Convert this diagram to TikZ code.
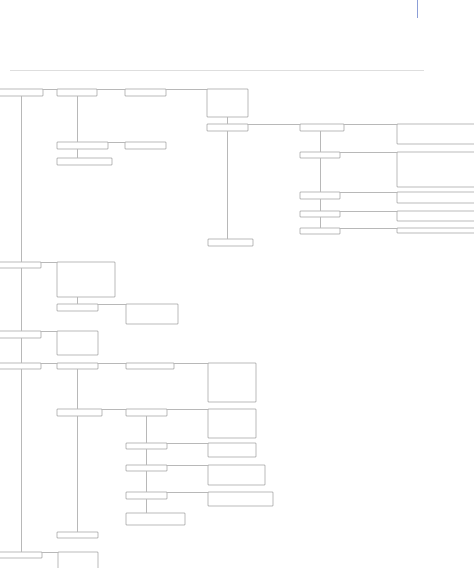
\documentclass[tikz,border=0pt]{standalone}
\definecolor{markblue}{RGB}{140,158,215}
\begin{document}
\begin{tikzpicture}[x=1pt,y=-1pt,
  box/.style={draw=black!38,line width=0.55pt,rounded corners=0.6pt,inner sep=0pt,outer sep=0pt,anchor=north west},
  conn/.style={draw=black!28,line width=0.5pt},
  rule/.style={draw=black!13,line width=0.9pt},
  bluemark/.style={draw=markblue,line width=1pt}]
\useasboundingbox (0,0) rectangle (474,568);
\newcommand{\bx}[5]{\node[box,minimum width={(#4-#2)*1pt},minimum height={(#5-#3)*1pt}] (#1) at (#2,#3) {};}
% header
\coordinate (rl) at (10,70); \coordinate (rr) at (424,70);
\draw[rule] (rl) -- (rr);
\coordinate (bt) at (417,0); \coordinate (bb) at (417,18);
\draw[bluemark] (bt) -- (bb);
% row 1
\bx{A1}{-1}{89}{43}{96}
\bx{A2}{57}{89}{97}{96}
\bx{A3}{125}{89}{166}{96}
\bx{B}{207}{89}{248}{117}
\bx{B2}{207}{124}{248}{131}
\bx{C}{208}{239}{253}{246}
\bx{D1}{300}{124}{344}{131}
\bx{D2}{300}{152}{340}{158}
\bx{D3}{300}{192}{340}{199}
\bx{D4}{300}{211}{340}{217}
\bx{D5}{300}{228}{340}{234}
\bx{E1}{397}{124}{480}{144}
\bx{E2}{397}{152}{480}{187}
\bx{E3}{397}{192}{480}{203}
\bx{E4}{397}{211}{480}{221}
\bx{E5}{397}{228}{480}{233}
\bx{F1}{57}{142}{108}{149}
\bx{F2}{125}{142}{166}{149}
\bx{F3}{57}{158}{112}{165}
% section 2
\bx{G1}{-1}{262}{41}{268}
\bx{G2}{57}{262}{115}{297}
\bx{G3}{57}{304}{98}{311}
\bx{G4}{126}{304}{178}{324}
\bx{H1}{-1}{331}{41}{338}
\bx{H2}{57}{331}{98}{355}
% section 3
\bx{I1}{-1}{363}{41}{369}
\bx{I2}{57}{363}{98}{369}
\bx{I3}{126}{363}{174}{369}
\bx{I4}{208}{363}{256}{402}
\bx{J1}{57}{409}{102}{416}
\bx{J2}{126}{409}{167}{416}
\bx{J3}{208}{409}{256}{438}
\bx{K1}{126}{443}{167}{449}
\bx{K2}{126}{465}{167}{471}
\bx{K3}{126}{492}{167}{499}
\bx{K4}{126}{513}{185}{525}
\bx{R1}{208}{443}{256}{457}
\bx{R2}{208}{465}{265}{485}
\bx{R3}{208}{492}{273}{506}
\bx{L}{57}{532}{98}{538}
\bx{M1}{-1}{552}{42}{558}
\bx{M2}{58}{552}{98}{572}
% horizontal connectors
\foreach \a/\b in {A1/A2,A2/A3,A3/B,B2/D1,D1/E1,D2/E2,D3/E3,D4/E4,D5/E5,F1/F2,
  G1/G2,G3/G4,H1/H2,I1/I2,I2/I3,I3/I4,J1/J2,J2/J3,K1/R1,K2/R2,K3/R3,M1/M2}
  \draw[conn] (\a.north east) -- (\b.north west);
% main spine
\draw[conn] (A1.south) -- (A1.south |- G1.north);
\draw[conn] (A1.south |- G1.south) -- (A1.south |- H1.north);
\draw[conn] (A1.south |- H1.south) -- (A1.south |- I1.north);
\draw[conn] (A1.south |- I1.south) -- (A1.south |- M1.north);
% branch verticals
\draw[conn] (A2.south) -- (A2.south |- F1.north);
\draw[conn] (A2.south |- F1.south) -- (A2.south |- F3.north);
\draw[conn] (B.south) -- (B2.north);
\draw[conn] (B2.south) -- (B2.south |- C.north);
\draw[conn] (D2.north |- D1.south) -- (D2.north);
\draw[conn] (D2.south) -- (D3.north);
\draw[conn] (D3.south) -- (D4.north);
\draw[conn] (D4.south) -- (D5.north);
\draw[conn] (G3.north |- G2.south) -- (G3.north);
\draw[conn] (I2.south) -- (I2.south |- J1.north);
\draw[conn] (I2.south |- J1.south) -- (I2.south |- L.north);
\draw[conn] (J2.south) -- (K1.north);
\draw[conn] (K1.south) -- (K2.north);
\draw[conn] (K2.south) -- (K3.north);
\draw[conn] (K3.south) -- (K3.south |- K4.north);
\end{tikzpicture}
\end{document}
